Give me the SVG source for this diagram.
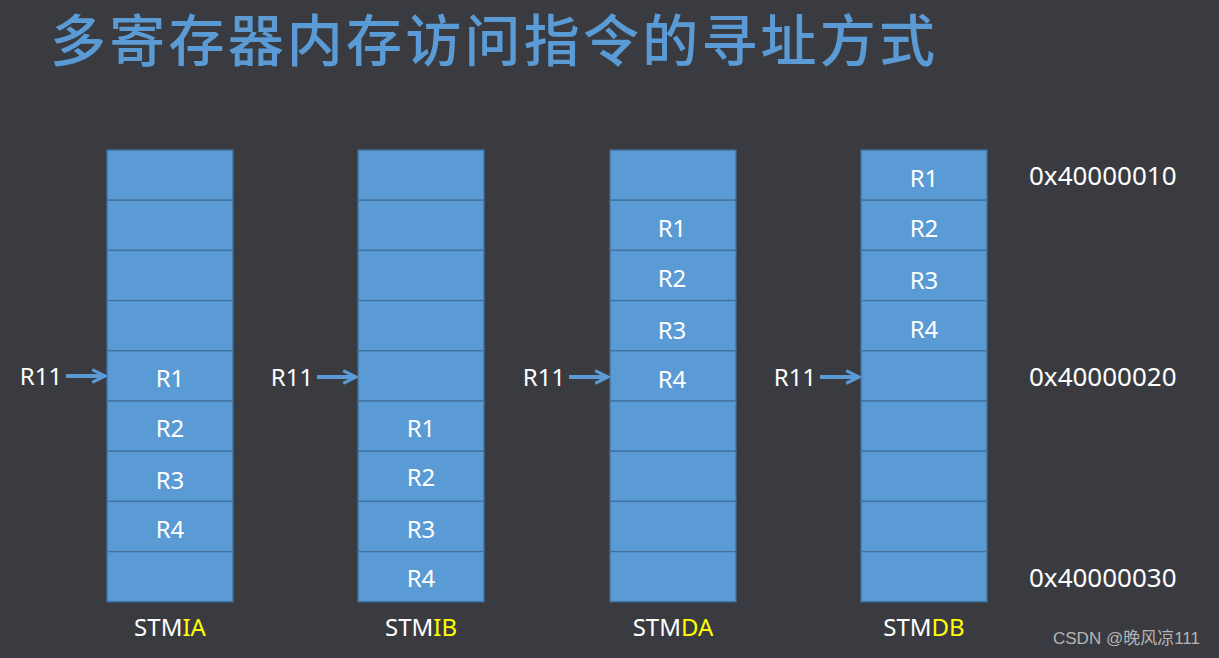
<svg xmlns="http://www.w3.org/2000/svg" width="1219" height="658" viewBox="0 0 1219 658">
<defs>
<style>
.cell{fill:#5b9bd5;stroke:#41719c;stroke-width:1.3}
.t{font-family:"Noto Sans","DejaVu Sans",sans-serif;font-size:24px;fill:#ffffff;text-anchor:middle;dominant-baseline:central}
.lbl{font-family:"Noto Sans","DejaVu Sans",sans-serif;font-size:24px;fill:#ffffff}
.addr{font-family:"Noto Sans","DejaVu Sans",sans-serif;font-size:26px;fill:#ffffff}
.y{fill:#ffff00}
.arr{stroke:#5b9bd5;stroke-width:4;fill:none}
</style>
<marker id="ah" viewBox="0 0 10 10" refX="9" refY="5" markerWidth="4" markerHeight="4" orient="auto" markerUnits="strokeWidth">
<path d="M1,1 L9,5 L1,9" fill="none" stroke="#5b9bd5" stroke-width="2"/>
</marker>
<g id="stack">
<rect class="cell" x="0" y="0" width="126" height="50.2"/>
<rect class="cell" x="0" y="50.2" width="126" height="50.2"/>
<rect class="cell" x="0" y="100.4" width="126" height="50.2"/>
<rect class="cell" x="0" y="150.6" width="126" height="50.2"/>
<rect class="cell" x="0" y="200.8" width="126" height="50.2"/>
<rect class="cell" x="0" y="251" width="126" height="50.2"/>
<rect class="cell" x="0" y="301.2" width="126" height="50.2"/>
<rect class="cell" x="0" y="351.4" width="126" height="50.2"/>
<rect class="cell" x="0" y="401.6" width="126" height="50.2"/>
</g>
</defs>
<rect width="1219" height="658" fill="#3a3b40"/>
<text id="title" x="50" y="61" font-family="'Noto Sans CJK SC',sans-serif" font-size="56" font-weight="500" fill="#5b9bd5" textLength="885" lengthAdjust="spacing">多寄存器内存访问指令的寻址方式</text>

<g id="stmia">
<use href="#stack" x="107" y="150"/>
<text class="t" x="170" y="377">R1</text>
<text class="t" x="170" y="427">R2</text>
<text class="t" x="170" y="479">R3</text>
<text class="t" x="170" y="528">R4</text>
<text class="lbl" x="170" y="636" text-anchor="middle">STM<tspan class="y">IA</tspan></text>
</g>
<g id="stmib">
<use href="#stack" x="358" y="150"/>
<text class="t" x="421" y="427">R1</text>
<text class="t" x="421" y="476">R2</text>
<text class="t" x="421" y="528">R3</text>
<text class="t" x="421" y="577">R4</text>
<text class="lbl" x="421" y="636" text-anchor="middle">STM<tspan class="y">IB</tspan></text>
</g>
<g id="stmda">
<use href="#stack" x="610" y="150"/>
<text class="t" x="672" y="227">R1</text>
<text class="t" x="672" y="277">R2</text>
<text class="t" x="672" y="329">R3</text>
<text class="t" x="672" y="378">R4</text>
<text class="lbl" x="673" y="636" text-anchor="middle">STM<tspan class="y">DA</tspan></text>
</g>
<g id="stmdb">
<use href="#stack" x="861" y="150"/>
<text class="t" x="924" y="177">R1</text>
<text class="t" x="924" y="227">R2</text>
<text class="t" x="924" y="279">R3</text>
<text class="t" x="924" y="328">R4</text>
<text class="lbl" x="924" y="636" text-anchor="middle">STM<tspan class="y">DB</tspan></text>
</g>

<g id="r11-labels">
<text class="t" x="41" y="375">R11</text>
<text class="t" x="292" y="376">R11</text>
<text class="t" x="544" y="376">R11</text>
<text class="t" x="795" y="376">R11</text>
</g>
<g id="connectors">
<line class="arr" x1="66" y1="376" x2="105" y2="376" marker-end="url(#ah)"/>
<line class="arr" x1="317" y1="377" x2="356" y2="377" marker-end="url(#ah)"/>
<line class="arr" x1="569" y1="377" x2="608" y2="377" marker-end="url(#ah)"/>
<line class="arr" x1="820" y1="377" x2="859" y2="377" marker-end="url(#ah)"/>
</g>
<g id="addresses">
<text class="addr" x="1029" y="185">0x40000010</text>
<text class="addr" x="1029" y="386">0x40000020</text>
<text class="addr" x="1029" y="587">0x40000030</text>
</g>
<text id="watermark" x="1053" y="644" font-family="'Liberation Sans','Noto Sans CJK SC',sans-serif" font-size="17" fill="#b4b4b4">CSDN @晚风凉111</text>
</svg>
